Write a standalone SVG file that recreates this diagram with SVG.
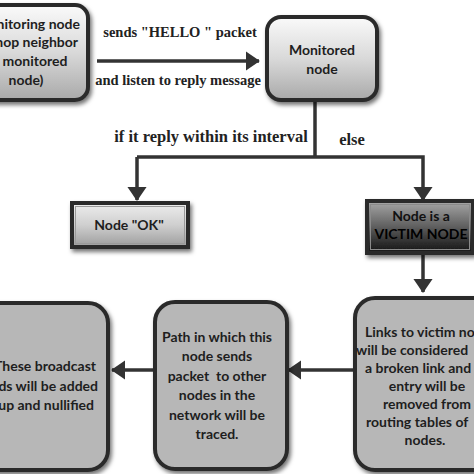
<svg xmlns="http://www.w3.org/2000/svg" width="474" height="474" viewBox="0 0 474 474">
<defs>
<linearGradient id="gTop" x1="0" y1="0" x2="0" y2="1">
<stop offset="0" stop-color="#fafafa"/><stop offset="0.5" stop-color="#d9d9d9"/><stop offset="1" stop-color="#a9a9a9"/>
</linearGradient>
<linearGradient id="gOk" x1="0" y1="0" x2="0" y2="1">
<stop offset="0" stop-color="#eeeeee"/><stop offset="0.5" stop-color="#cfcfcf"/><stop offset="1" stop-color="#9c9c9c"/>
</linearGradient>
<linearGradient id="gVic" x1="0" y1="0" x2="0" y2="1">
<stop offset="0" stop-color="#a8a8a8"/><stop offset="0.5" stop-color="#5e5e5e"/><stop offset="0.75" stop-color="#353535"/><stop offset="1" stop-color="#141414"/>
</linearGradient>
<filter id="sh" x="-20%" y="-20%" width="150%" height="150%">
<feDropShadow dx="2" dy="3" stdDeviation="2" flood-color="#000" flood-opacity="0.55"/>
</filter>
<marker id="ah" viewBox="0 0 8 11" refX="7.5" refY="5.5" markerWidth="4" markerHeight="5.5" markerUnits="strokeWidth" orient="auto">
<path d="M0,0 L8,5.5 L0,11 Z" fill="#333"/>
</marker>
</defs>
<style>
.box{stroke:#2b2b2b;stroke-width:4;filter:url(#sh)}
.top{fill:url(#gTop)}
.gray{fill:#b7b7b7}
.nt{font-family:Lato,"Open Sans","Liberation Sans",sans-serif;font-weight:700;font-size:14px;fill:#1e1e1e;text-anchor:middle}
.lt{font-family:"Liberation Serif","Times New Roman",serif;font-weight:700;font-size:14.5px;fill:#222;text-anchor:middle}
.big{font-size:16.5px}
.st{text-anchor:start}
.en{text-anchor:end}
.cn{fill:none;stroke:#333;stroke-width:3.5}
</style>

<g id="connectors">
<line class="cn" x1="97" y1="61" x2="259" y2="61" marker-end="url(#ah)"/>
<polyline class="cn" points="315,100 315,157"/>
<polyline class="cn" points="137,157 423,157 423,200" marker-end="url(#ah)"/>
<polyline class="cn" points="137,157 137,200" marker-end="url(#ah)"/>
<line class="cn" x1="423" y1="253" x2="423" y2="292" marker-end="url(#ah)"/>
<line class="cn" x1="355" y1="370" x2="288" y2="370" marker-end="url(#ah)"/>
<line class="cn" x1="155" y1="370" x2="112" y2="370" marker-end="url(#ah)"/>
<text class="lt" x="180" y="37">sends "HELLO " packet</text>
<text class="lt" x="178" y="85">and listen to reply message</text>
<text class="lt big" x="211" y="142">if it reply within its interval</text>
<text class="lt big" x="352" y="145">else</text>
</g>

<g id="monitoring">
<rect class="box top" x="-20" y="5" width="108" height="95" rx="13"/>
<text class="nt en" x="80" y="29">nitoring node</text>
<text class="nt en" x="78" y="47">hop neighbor</text>
<text class="nt" x="35" y="66">monitored</text>
<text class="nt" x="26" y="85">node)</text>
</g>

<g id="monitored">
<rect class="box top" x="267" y="17" width="110" height="83" rx="14"/>
<text class="nt" x="322" y="55">Monitored</text>
<text class="nt" x="322" y="74">node</text>
</g>

<g id="ok">
<rect class="box" x="72" y="203" width="116" height="44" fill="url(#gOk)"/>
<rect x="75.5" y="206.5" width="109" height="37" fill="none" stroke="#9a9a9a" stroke-width="1"/>
<text class="nt" x="129" y="230">Node "OK"</text>
</g>

<g id="victim">
<rect class="box" x="367" y="201" width="106" height="52" fill="url(#gVic)"/>
<rect x="370.5" y="204.5" width="99" height="45" fill="none" stroke="#8a8a8a" stroke-width="1"/>
<text class="nt" x="421" y="221" style="fill:#111">Node is a</text>
<text class="nt" x="421" y="239" style="fill:#000">VICTIM NODE</text>
</g>

<g id="links">
<rect class="box gray" x="355" y="298" width="140" height="172" rx="20"/>
<text class="nt st" x="365" y="337">Links to victim no</text>
<text class="nt st" x="356" y="355">will be considered</text>
<text class="nt st" x="365" y="373">a broken link and</text>
<text class="nt" x="427" y="391">entry will be</text>
<text class="nt" x="427" y="409">removed from</text>
<text class="nt st" x="366" y="427">routing tables of</text>
<text class="nt" x="425" y="445">nodes.</text>
</g>

<g id="path">
<rect class="box gray" x="155" y="302" width="132" height="167" rx="20"/>
<text class="nt" x="217" y="342">Path in which this</text>
<text class="nt" x="217" y="361">node sends</text>
<text class="nt" x="217" y="381" xml:space="preserve">packet  to other</text>
<text class="nt" x="217" y="400">nodes in the</text>
<text class="nt" x="217" y="420">network will be</text>
<text class="nt" x="217" y="439">traced.</text>
</g>

<g id="broadcast">
<rect class="box gray" x="-30" y="303" width="138" height="167" rx="20"/>
<text class="nt en" x="96" y="371">These broadcast</text>
<text class="nt en" x="98" y="391">ds will be added</text>
<text class="nt en" x="94" y="410">up and nullified</text>
</g>
</svg>
